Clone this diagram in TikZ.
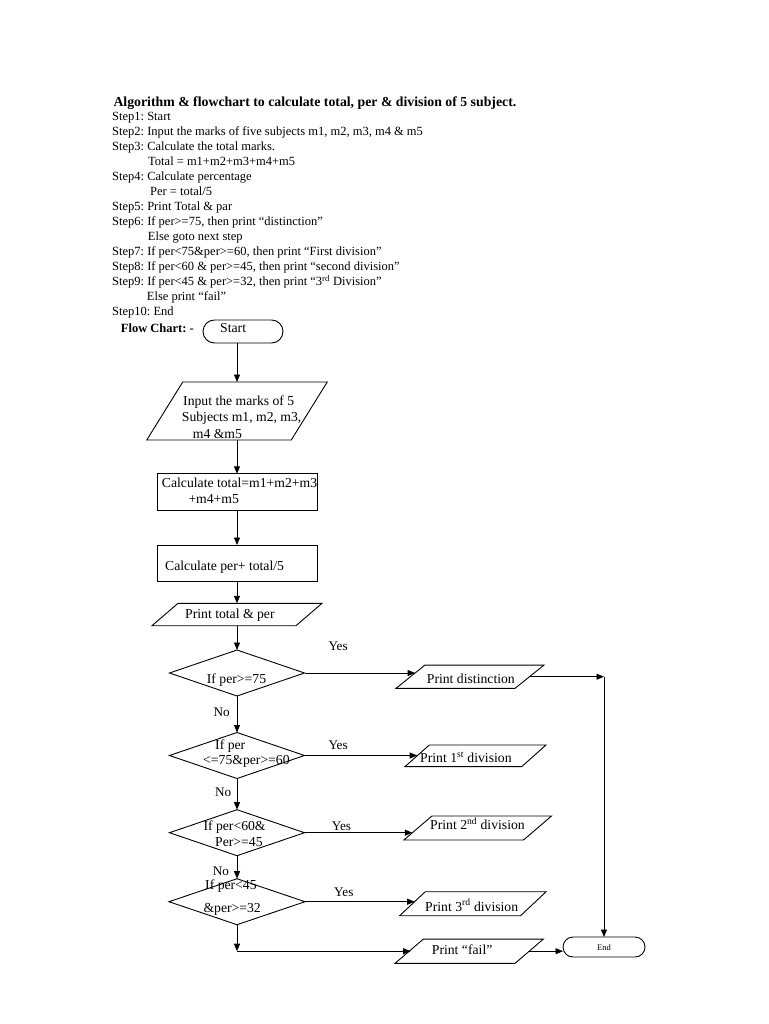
\documentclass[tikz,border=0pt]{standalone}
\usepackage{fontspec}
\setmainfont{Liberation Serif}
\usetikzlibrary{shapes.geometric,arrows.meta,calc}
\frenchspacing
\newcommand\pgram[6]{%
  \node[pbox, minimum width=#4pt, minimum height=#5pt] (#1) at (#2,#3) {};
  \draw[ln] ([xshift=-#6pt]#1.south west) -- ([xshift=-#6pt]#1.south east) -- ([xshift=#6pt]#1.north east) -- ([xshift=#6pt]#1.north west) -- cycle;
}
\begin{document}
\begin{tikzpicture}[x=1pt,y=-1pt,
  ln/.style={line width=0.9pt},
  arr/.style={ln, -{Triangle[length=7.5pt,width=6pt]}},
  stepline/.style={anchor=base west, inner sep=0pt, font=\fontsize{12.5}{15}\selectfont},
  fctext/.style={anchor=base west, inner sep=0pt, font=\fontsize{13.7}{16}\selectfont},
  lbl/.style={anchor=base west, inner sep=0pt, font=\fontsize{13.2}{16}\selectfont},
  pbox/.style={rectangle, draw=none, inner sep=0pt, outer sep=0pt},
  term/.style={rectangle, draw, ln, inner sep=0pt, outer sep=0pt},
  proc/.style={rectangle, draw, ln, inner sep=0pt, outer sep=0pt, minimum width=160pt},
  dec/.style={diamond, draw, ln, inner sep=0pt, outer sep=0pt, minimum width=135pt, minimum height=46pt},
]
\path[use as bounding box, fill=white] (0,0) rectangle (768,1024);

% ---- algorithm text ----
\node[anchor=base west, inner sep=0pt, font=\fontsize{13.8}{16}\selectfont\bfseries] (title) at (113.3,106.7)
  {Algorithm \& flowchart to calculate total, per \& division of 5 subject.};
\node[stepline] (s0)  at (112,120.7) {Step1: Start};
\node[stepline] (s1)  at (112,135.7) {Step2: Input the marks of five subjects m1, m2, m3, m4 \& m5};
\node[stepline] (s2)  at (112,150.7) {Step3: Calculate the total marks.};
\node[stepline] (s3)  at (148,165.7) {Total = m1+m2+m3+m4+m5};
\node[stepline] (s4)  at (112,180.7) {Step4: Calculate percentage};
\node[stepline] (s5)  at (150,195.7) {Per = total/5};
\node[stepline] (s6)  at (112,210.7) {Step5: Print Total \& par};
\node[stepline] (s7)  at (112,225.7) {Step6: If per>=75, then print “distinction”};
\node[stepline] (s8)  at (147.7,240.7) {Else goto next step};
\node[stepline] (s9)  at (112,255.7) {Step7: If per<75\&per>=60, then print “First division”};
\node[stepline] (s10) at (112,270.7) {Step8: If per<60 \& per>=45, then print “second division”};
\node[stepline] (s11) at (112,285.7) {Step9: If per<45 \& per>=32, then print “3\textsuperscript{rd} Division”};
\node[stepline] (s12) at (146.7,300.7) {Else print “fail”};
\node[stepline] (s13) at (112,315.7) {Step10: End};
\node[anchor=base west, inner sep=0pt, font=\fontsize{12.5}{15}\selectfont\bfseries] (fclabel) at (120.7,332.3) {Flow Chart: -};

% ---- flowchart shapes ----
\node[term, rounded corners=11.5pt, minimum width=80pt, minimum height=23pt] (start) at (243,331.5) {};
\node[fctext] (startt) at (220,332.7) {Start};

\pgram{input}{237}{411}{144.5}{58}{18}
\node[fctext] (in1) at (183,405) {Input the marks of 5};
\node[fctext] (in2) at (181.7,421.7) {Subjects m1, m2, m3,};
\node[fctext] (in3) at (192.7,438.3) {m4 \&m5};

\node[proc, minimum height=37pt] (calc1) at (237,492.3) {};
\node[fctext] (c1a) at (161.7,487.3) {Calculate total=m1+m2+m3};
\node[fctext] (c1b) at (188.3,503.3) {+m4+m5};

\node[proc, minimum height=36pt] (calc2) at (237,563) {};
\node[fctext] (c2a) at (165,570) {Calculate per+ total/5};

\pgram{ptot}{237}{614.5}{144}{22.4}{13}
\node[fctext] (ptt) at (185,618.3) {Print total \& per};

\node[dec] (d1) at (237,673) {};
\node[fctext] (d1t) at (206.7,683.3) {If per>=75};
\node[dec] (d2) at (237,755.5) {};
\node[fctext] (d2a) at (215,749.3) {If per};
\node[fctext] (d2b) at (203,764) {<=75\&per>=60};
\node[dec] (d3) at (237,832.7) {};
\node[fctext] (d3a) at (203.3,830.7) {If per<60\&};
\node[fctext] (d3b) at (215,846.7) {Per>=45};
\node[dec, minimum width=136pt] (d4) at (237,901.7) {};
\node[fctext] (d4a) at (205,889.8) {If per<45};
\node[fctext] (d4b) at (203.3,912.7) {\&per>=32};

\pgram{pdist}{470}{676.7}{119}{23.3}{14.5}
\node[fctext] (pdt) at (426.7,683.3) {Print distinction};
\pgram{p1}{475.5}{755.8}{116.7}{21.7}{12.2}
\node[fctext] (p1t) at (420,762.7) {Print 1\textsuperscript{st} division};
\pgram{p2}{477.7}{828}{119.6}{24}{14}
\node[fctext] (p2t) at (430,829.3) {Print 2\textsuperscript{nd} division};
\pgram{p3}{472.9}{903.7}{120.9}{24}{12.8}
\node[fctext] (p3t) at (425,911) {Print 3\textsuperscript{rd} division};
\pgram{pfail}{469.2}{951.2}{120}{24.3}{14.2}
\node[fctext] (pft) at (431.7,954.3) {Print “fail”};

\node[term, rounded corners=10pt, minimum width=82pt, minimum height=20pt] (stop) at (604,947) {};
\node[anchor=base, inner sep=0pt, font=\fontsize{8.5}{10}\selectfont] (stopt) at (stop.center) [yshift=-3pt] {End};

% ---- labels ----
\node[lbl] (y1) at (328.3,650) {Yes};
\node[lbl] (y2) at (328.3,749) {Yes};
\node[lbl] (y3) at (331.7,830.7) {Yes};
\node[lbl] (y4) at (334,896) {Yes};
\node[lbl] (n1) at (213.3,716) {No};
\node[lbl] (n2) at (215,796.7) {No};
\node[lbl] (n3) at (212.7,875.3) {No};

% ---- connectors ----
\draw[arr] (input.north |- start.south) -- (input.north);
\draw[arr] (input.south) -- (calc1.north);
\draw[arr] (calc1.south) -- (calc2.north);
\draw[arr] (calc2.south) -- (ptot.north);
\draw[arr] (ptot.south) -- (d1.north);
\draw[arr] (d1.south) -- (d2.north);
\draw[arr] (d2.south) -- (d3.north);
\draw[arr] (d3.south) -- (d4.north);
\coordinate (fc) at (d4.south |- pfail.west);
\draw[arr] (d4.south) -- (fc);
\draw[arr] (fc) -- ($(pfail.west)+(1.4,0)$);
\draw[arr] (d1.east) -- ($(pdist.west |- d1.east)+(4.6,0)$);
\draw[arr] (d2.east) -- (d2.east -| p1.west);
\draw[arr] (d3.east) -- ($(d3.east -| p2.west)+(-5.5,0)$);
\draw[arr] (d4.east) -- ($(d4.east -| p3.west)+(2.2,0)$);
\coordinate (rc) at (stop.north |- pdist.east);
\draw[arr] (pdist.east) -- (rc);
\draw[arr] (rc) -- (stop.north);
\draw[arr] (pfail.east) -- (pfail.east -| stop.west);
\end{tikzpicture}
\end{document}
